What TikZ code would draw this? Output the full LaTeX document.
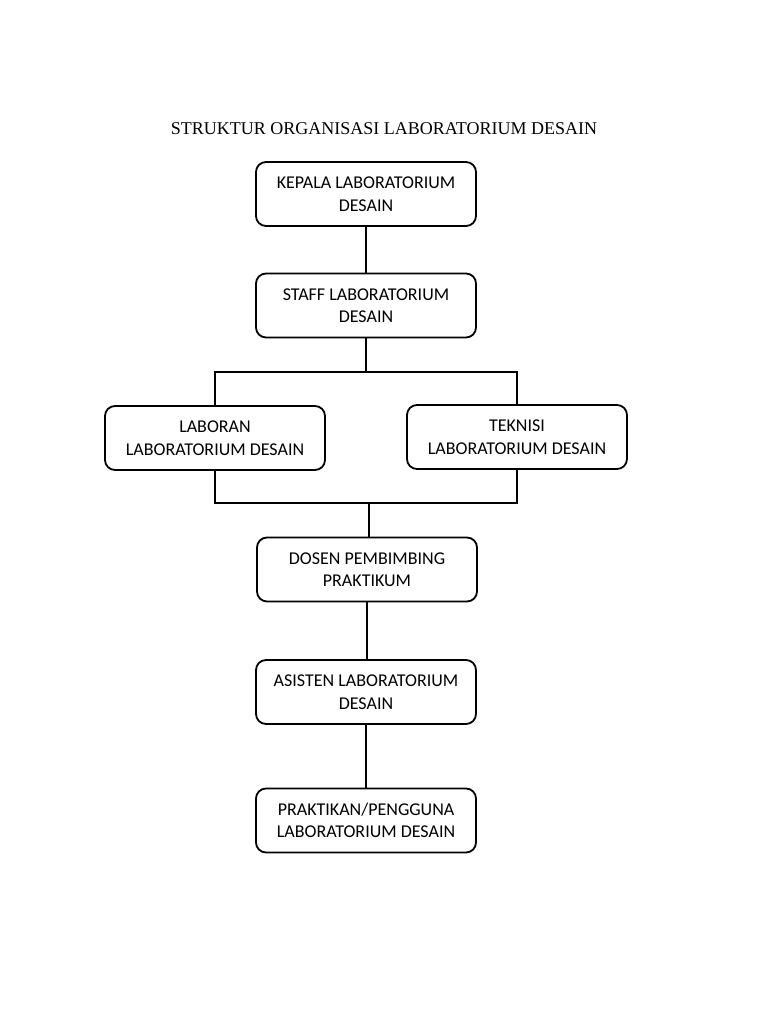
\documentclass[tikz,border=0pt]{standalone}
\usepackage{fontspec}
\setmainfont{Carlito}
\newfontfamily\titlefont{Liberation Serif}
\begin{document}
\begin{tikzpicture}[x=1pt,y=-1pt,
  orgbox/.style={draw=black, line width=1.8pt, rounded corners=10pt, minimum width=220pt, minimum height=64pt, inner sep=0pt, align=center, font=\fontsize{18}{22.5}\selectfont},
  link/.style={draw=black, line width=1.8pt}]
\useasboundingbox (0,0) rectangle (768,1024);
\node[font=\titlefont\fontsize{18}{20}\selectfont, anchor=base] (title) at (384,135) {STRUKTUR ORGANISASI LABORATORIUM DESAIN};
\node[orgbox] (kepala) at (366,194) {KEPALA LABORATORIUM\\DESAIN};
\node[orgbox] (staff) at (366,305.5) {STAFF LABORATORIUM\\DESAIN};
\node[orgbox] (laboran) at (215,438) {LABORAN\\LABORATORIUM DESAIN};
\node[orgbox] (teknisi) at (517,437) {TEKNISI\\LABORATORIUM DESAIN};
\node[orgbox] (dosen) at (367,569.5) {DOSEN PEMBIMBING\\PRAKTIKUM};
\node[orgbox] (asisten) at (366,692) {ASISTEN LABORATORIUM\\DESAIN};
\node[orgbox] (praktikan) at (366,820.5) {PRAKTIKAN/PENGGUNA\\LABORATORIUM DESAIN};
\coordinate (top) at (366,372);
\coordinate (bot) at (369,503);
\draw[link] (kepala.south) -- (staff.north);
\draw[link] (staff.south) -- (top);
\draw[link] (laboran.north) -- (laboran.north |- top) -- (teknisi.north |- top) -- (teknisi.north);
\draw[link] (laboran.south) -- (laboran.south |- bot) -- (teknisi.south |- bot) -- (teknisi.south);
\draw[link] (bot) -- (bot |- dosen.north);
\draw[link] (dosen.south) -- (dosen.south |- asisten.north);
\draw[link] (asisten.south) -- (praktikan.north);
\end{tikzpicture}
\end{document}
